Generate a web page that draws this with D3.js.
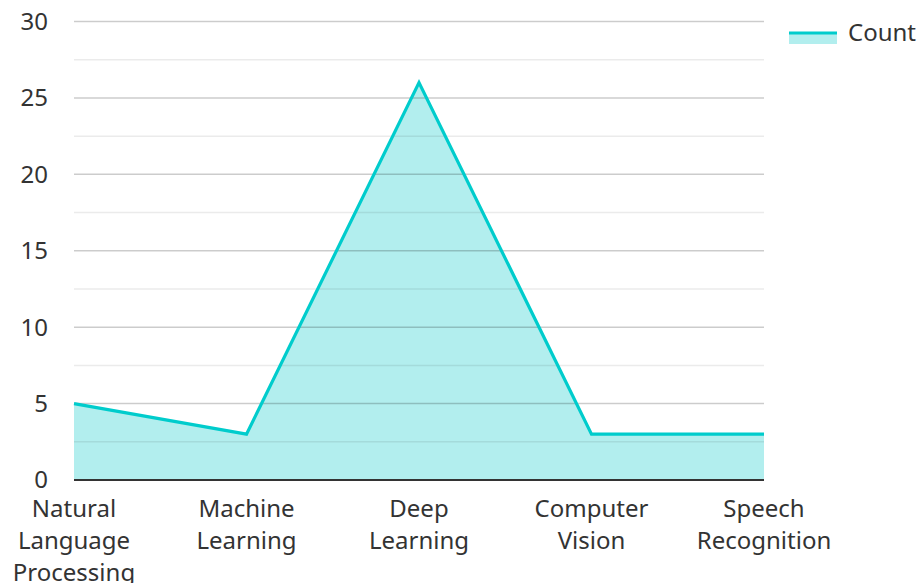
<!DOCTYPE html>
<html>
<head>
<meta charset="utf-8">
<script src="https://cdn.jsdelivr.net/npm/d3@7"></script>
<style>
  body { margin: 0; background: #fff; }
  text { font-family: "Noto Sans", "Open Sans", sans-serif; fill: #333; }
</style>
</head>
<body>
<script>
//chart data
var categories = ["Natural Language Processing", "Machine Learning", "Deep Learning", "Computer Vision", "Speech Recognition"];
var categoryLines = [["Natural", "Language", "Processing"], ["Machine", "Learning"], ["Deep", "Learning"], ["Computer", "Vision"], ["Speech", "Recognition"]];
var counts = [5, 3, 26, 3, 3];
var yTicks = [0, 5, 10, 15, 20, 25, 30];
var yMinorTicks = [2.5, 7.5, 12.5, 17.5, 22.5, 27.5];
var seriesName = "Count";

var width = 919, height = 583;
var margin = {left: 74, right: 155, top: 21.5, bottom: 103};

var svg = d3.select("body").append("svg")
    .attr("width", width)
    .attr("height", height);

var x = d3.scalePoint()
    .domain(categories)
    .range([margin.left, width - margin.right]);

var y = d3.scaleLinear()
    .domain([0, 30])
    .range([height - margin.bottom, margin.top]);

var lineColor = "#00cccc";
var fillColor = "#b2eeee";

//area fill
var area = d3.area()
    .x(function(d, i){ return x(categories[i]); })
    .y0(y(0))
    .y1(function(d){ return y(d); });

svg.append("path")
    .datum(counts)
    .attr("d", area)
    .attr("fill", fillColor);

//minor gridlines
svg.selectAll(".minor")
    .data(yMinorTicks)
    .enter()
    .append("line")
    .attr("x1", margin.left)
    .attr("x2", width - margin.right)
    .attr("y1", function(d){ return y(d); })
    .attr("y2", function(d){ return y(d); })
    .attr("stroke", "rgba(0,0,0,0.08)")
    .attr("stroke-width", 1.5);

//major gridlines
svg.selectAll(".major")
    .data(yTicks.slice(1))
    .enter()
    .append("line")
    .attr("x1", margin.left)
    .attr("x2", width - margin.right)
    .attr("y1", function(d){ return y(d); })
    .attr("y2", function(d){ return y(d); })
    .attr("stroke", "rgba(0,0,0,0.2)")
    .attr("stroke-width", 1.5);

//line
var line = d3.line()
    .x(function(d, i){ return x(categories[i]); })
    .y(function(d){ return y(d); });

svg.append("path")
    .datum(counts)
    .attr("d", line)
    .attr("fill", "none")
    .attr("stroke", lineColor)
    .attr("stroke-width", 3.2)
    .attr("stroke-linejoin", "miter");

//baseline axis
svg.append("line")
    .attr("x1", margin.left)
    .attr("x2", width - margin.right)
    .attr("y1", y(0))
    .attr("y2", y(0))
    .attr("stroke", "#333")
    .attr("stroke-width", 2);

//y labels
svg.selectAll(".ylab")
    .data(yTicks)
    .enter()
    .append("text")
    .attr("x", 48)
    .attr("y", function(d){ return y(d); })
    .attr("dy", "0.35em")
    .attr("text-anchor", "end")
    .style("font-size", "24px")
    .text(function(d){ return d; });

//x labels
var xl = svg.selectAll(".xlab")
    .data(categories)
    .enter()
    .append("text")
    .attr("text-anchor", "middle")
    .style("font-size", "24px");

xl.each(function(d, i){
    var t = d3.select(this);
    categoryLines[i].forEach(function(s, j){
        t.append("tspan")
            .attr("x", x(d))
            .attr("y", 517 + j * 32)
            .text(s);
    });
});

//legend
svg.append("rect")
    .attr("x", 789)
    .attr("y", 32)
    .attr("width", 48)
    .attr("height", 12)
    .attr("fill", fillColor);

svg.append("line")
    .attr("x1", 789)
    .attr("x2", 837)
    .attr("y1", 33)
    .attr("y2", 33)
    .attr("stroke", lineColor)
    .attr("stroke-width", 3);

svg.append("text")
    .attr("x", 848)
    .attr("y", 33)
    .attr("dy", "0.35em")
    .style("font-size", "24px")
    .text(seriesName);
</script>
</body>
</html>
